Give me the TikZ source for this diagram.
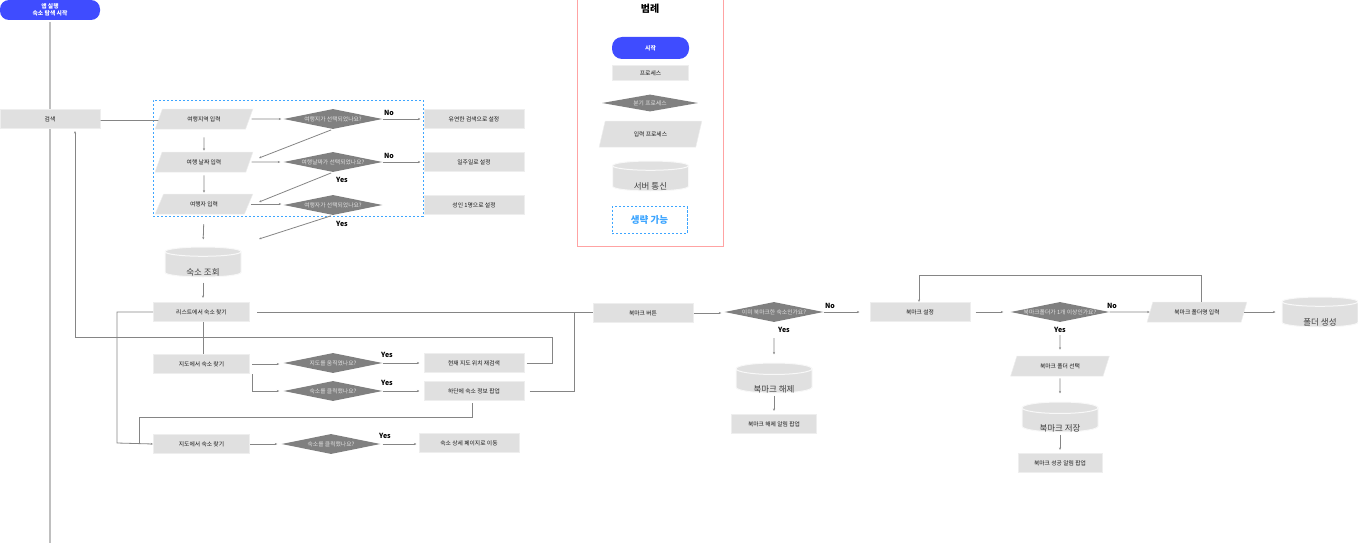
\documentclass[tikz,border=0pt]{standalone}
\usepackage{fontspec}
\setmainfont{Noto Sans CJK KR}
\usepackage{tikz}
\usetikzlibrary{
  shapes.geometric
  , calc
  , arrows.meta
}
\definecolor{boxgray}{HTML}{E0E0E0}
\definecolor{boxedge}{HTML}{EEEEEE}
\definecolor{decgray}{HTML}{808080}
\definecolor{linegray}{HTML}{858585}
\definecolor{startblue}{HTML}{3F4CFF}
\definecolor{optblue}{HTML}{3DA5FF}
\definecolor{legendred}{HTML}{FFA3A3}
\newcommand{\dlabel}[1]{\makebox[0pt]{#1}}
\newcommand{\clabel}[1]{\raisebox{-11pt}[0pt][0pt]{#1}}
\tikzset{
  small text/.style={font=\fontsize{5.8}{7}\selectfont, text=black!90},
  startbox/.style={rectangle, rounded corners=9pt, fill=startblue, inner sep=0pt,
    minimum width=#1, minimum height=20pt, align=center,
    font=\fontsize{5.8}{7}\selectfont\bfseries, text=white},
  startbox/.default=100pt,
  stepbox/.style={rectangle, small text, draw=boxedge, fill=boxgray, line width=1pt, inner sep=0pt,
    minimum width=#1, minimum height=19pt},
  stepbox/.default=99pt,
  decbox/.style={diamond, aspect=3, inner sep=0pt, fill=decgray, text=boxgray,
    font=\fontsize{5.8}{7}\selectfont, minimum width=#1, minimum height=20pt},
  decbox/.default=99pt,
  inputbox/.style={trapezium, trapezium left angle=61, trapezium right angle=119,
    trapezium stretches=true, small text, fill=boxgray, draw=boxedge, line width=.5pt, inner sep=0pt,
    minimum width=#1, minimum height=20pt},
  inputbox/.default=98pt,
  serverbox/.style={cylinder, shape border rotate=90, aspect=.28, draw=boxedge!40!white, line width=1pt,
    cylinder uses custom fill, cylinder body fill=boxgray, cylinder end fill=boxgray,
    font=\fontsize{8.5}{10}\selectfont, text=black!75, inner sep=0pt, anchor=shape center,
    minimum width=76pt, minimum height=30pt},
  answer/.style={font=\fontsize{7}{8}\selectfont\bfseries, inner sep=0pt},
  flow/.style={-{Stealth[length=2.5pt,width=2pt]}, draw=linegray, line width=.8pt},
  plain/.style={draw=linegray, line width=.8pt},
  trunk/.style={draw=black!25, line width=1.5pt},
  optional/.style={draw=optblue, dashed, dash pattern=on 2.2pt off 1.8pt, line width=1pt},
}
\begin{document}
\begin{tikzpicture}[x=1pt, y=-1pt]
  \useasboundingbox (0,0) rectangle (1358,543);

  \node [startbox] (start) at (50,10){앱 실행\\숙소 탐색 시작};
  \node [stepbox=100pt] (search) at (50,119){검색};
  \coordinate (trunkend) at (50,543);

  \node [inputbox] (placein) at (204,119){여행지역 입력};
  \node [decbox] (placedec) at (333,119){\dlabel{여행지가 선택되었나요?}};
  \node [stepbox=100pt] (placeout) at (474,119){유연한 검색으로 설정};
  \node [inputbox] (datein) at (204,162){여행 날짜 입력};
  \node [decbox] (datedec) at (333,162){\dlabel{여행날짜가 선택되었나요?}};
  \node [stepbox=100pt] (dateout) at (474,162){일주일로 설정};
  \node [inputbox] (peoplein) at (204,204){여행자 입력};
  \node [decbox] (peopledec) at (333,205){\dlabel{여행자가 선택되었나요?}};
  \node [stepbox=100pt] (peopleout) at (474,205){성인 1명으로 설정};
  \node [serverbox] (lookup) at (203,262){\clabel{숙소 조회}};
  \node [optional, rectangle, minimum width=270pt, minimum height=116pt, inner sep=0pt] (optarea) at (288,158){};

  \node [stepbox=96pt] (list) at (201.5,312){리스트에서 숙소 찾기};
  \node [stepbox=96pt] (mapa) at (201.5,364){지도에서 숙소 찾기};
  \node [decbox] (movedec) at (333,363){\dlabel{지도를 움직였나요?}};
  \node [stepbox=100pt] (research) at (474,363){현재 지도 위치 재검색};
  \node [decbox] (clickdec) at (333,391){\dlabel{숙소를 클릭했나요?}};
  \node [stepbox=100pt] (sheet) at (474,391){하단에 숙소 정보 팝업};
  \node [stepbox=96pt] (mapb) at (201.5,444){지도에서 숙소 찾기};
  \node [decbox] (clickdecb) at (331,444){\dlabel{숙소를 클릭했나요?}};
  \node [stepbox=100pt] (detail) at (469,443){숙소 상세 페이지로 이동};

  \node [stepbox=100pt] (markbtn) at (643,313){북마크 버튼};
  \node [decbox] (markdec) at (774,312){\dlabel{이미 북마크한 숙소인가요?}};
  \node [serverbox] (unmark) at (774,378){\clabel{북마크 해제}};
  \node [stepbox=85pt] (unmarkpop) at (774,424){북마크 해제 알림 팝업};
  \node [stepbox=100pt] (markset) at (920,312){북마크 설정};
  \node [decbox] (folderdec) at (1060,312){\dlabel{북마크폴더가 1개 이상인가요?}};
  \node [inputbox=100pt] (foldername) at (1197,312){북마크 폴더명 입력};
  \node [serverbox] (newfolder) at (1320,312){\clabel{폴더 생성}};
  \node [inputbox=99pt] (folderpick) at (1060,366){북마크 폴더 선택};
  \node [serverbox] (marksave) at (1060,417){\clabel{북마크 저장}};
  \node [stepbox=84pt] (savepop) at (1060,463){북마크 성공 알림 팝업};

  \node [answer] (noa) at (389,113){No};
  \node [answer] (nob) at (389,156){No};
  \node [answer] (yesb) at (342,180){Yes};
  \node [answer] (yesc) at (342,224){Yes};
  \node [answer] (yesd) at (387,355){Yes};
  \node [answer] (yese) at (387,383){Yes};
  \node [answer] (yesf) at (385,436){Yes};
  \node [answer] (noc) at (830,306){No};
  \node [answer] (yesg) at (784,330){Yes};
  \node [answer] (nod) at (1112,306){No};
  \node [answer] (yesh) at (1060,330){Yes};

  \draw [trunk, shorten <=2pt] (start) -- (search);
  \draw [trunk] (search) -- (trunkend);
  \draw [plain] ($ (search.east)+(0,1.5) $) -- ($ (placein.west)+(0,1.5) $);

  \draw [flow, shorten <=2pt, shorten >=2pt] (placein.east) -- (placedec.west);
  \draw [flow, shorten >=3pt] (placedec.east) -- (placeout.west);
  \draw [flow, shorten <=8pt, shorten >=1pt] (placein) -- (datein);
  \draw [flow, shorten <=2pt] (placedec.south) -- (259,158) coordinate (backa);
  \draw [flow, shorten <=2pt, shorten >=3pt] (datein.east) -- (datedec.west);
  \draw [flow, shorten >=3pt] (datedec.east) -- (dateout.west);
  \draw [flow, shorten <=3pt, shorten >=1pt] (datein) -- (peoplein);
  \draw [flow, shorten <=2pt] (datedec.south) -- (259,202) coordinate (backb);
  \draw [flow, shorten <=2pt, shorten >=2pt] (peoplein.east) -- (peoplein.east -| peopledec.west);
  \draw [flow, shorten <=2pt] (peopledec.south) -- (259,239) coordinate (backc);
  \draw [flow, shorten <=10pt, shorten >=7pt] (peoplein.south) -- (lookup.north);
  \draw [flow, shorten <=5pt, shorten >=4pt] (lookup.south) -- (lookup.south |- list.north);

  \draw [flow] (list.west) -- (117,312) coordinate (leftbus) -- (117,443) -- (mapb.west);
  \draw [plain] ($ (list.south)+(1.5,0) $) -- ($ (mapa.north)+(1.5,0) $);
  \draw [plain, shorten <=7pt] (list.east) -- (list.east -| markbtn.west);
  \draw [flow, shorten <=2pt, shorten >=4pt] (mapa.east) -- (mapa.east -| movedec.west);
  \draw [flow, shorten >=4pt] (movedec.east) -- (research.west);
  \draw [flow, shorten >=4pt] (252,374) coordinate (mapfoot) -- (252,391) -- (clickdec.west);
  \draw [flow, shorten >=4pt] (clickdec.east) -- (sheet.west);
  \draw [flow, shorten <=2pt] (research.east) -- (552,363) -- (552,337) coordinate (backbus) -- (75,337) -- (75,131) coordinate (searchback);
  \draw [plain, shorten <=5pt] (sheet.east) -- (574,391) -- (574,312) coordinate (markbus);
  \draw [plain, shorten <=2pt] (472,401) coordinate (sheetfoot) -- (472,417) -- (139,417) -- (139,443) coordinate (mapjoin);
  \draw [flow, shorten >=4pt] (mapb.east) -- (clickdecb.west);
  \draw [flow, shorten <=2pt, shorten >=2pt] (clickdecb.east) -- (clickdecb.east -| detail.west);

  \draw [flow, shorten >=3pt] (markbtn.east) -- (markbtn.east -| markdec.west);
  \draw [flow, shorten >=10pt] (markdec.east) -- (markset.west);
  \draw [flow, shorten <=16pt, shorten >=8pt] (markdec.south) -- (unmark.north);
  \draw [flow, shorten <=2pt, shorten >=3pt] (unmark.south) -- (unmarkpop.north);
  \draw [flow, shorten <=5pt, shorten >=7pt] (markset.east) -- (folderdec.west);
  \draw [flow] (folderdec.east) -- (foldername.west);
  \draw [flow, shorten >=6pt] (foldername.east) -- (foldername.east -| newfolder.west);
  \draw [flow] (foldername.north -| 1201,302) -- (1201,275) coordinate (loopa) -- (919,275) coordinate (loopb) -- (markset.north -| 919,302);
  \draw [flow, shorten <=13pt, shorten >=6pt] (folderdec.south) -- (folderpick.north);
  \draw [flow, shorten <=2pt, shorten >=8pt] (folderpick.south) -- (marksave.north);
  \draw [flow, shorten <=2pt, shorten >=3pt] (marksave.south) -- (savepop.north);

  \node [rectangle, draw=legendred, line width=1pt, minimum width=146pt, minimum height=246pt, inner sep=0pt] (legend) at (650,123){};
  \node [font=\fontsize{10}{12}\selectfont\bfseries, inner sep=0pt] (legendtitle) at (650,9){범례};
  \node [startbox=77pt, minimum height=22pt, rounded corners=10pt] (legendstart) at (650.5,48){시작};
  \node [stepbox=76pt, minimum height=15pt] (legendstep) at (650.5,73){프로세스};
  \node [decbox=96pt, minimum height=17pt] (legenddec) at (650,103){\dlabel{분기 프로세스}};
  \node [inputbox=103pt, minimum height=26pt, trapezium left angle=67, trapezium right angle=113] (legendin) at (650.5,134){입력 프로세스};
  \node [serverbox] (legendserver) at (650.5,176){\clabel{서버 통신}};
  \node [optional, rectangle, minimum width=75pt, minimum height=27pt, inner sep=0pt, text=optblue,
    font=\fontsize{9.5}{11}\selectfont\bfseries] (legendopt) at (649.5,220){생략 가능};
\end{tikzpicture}
\end{document}
